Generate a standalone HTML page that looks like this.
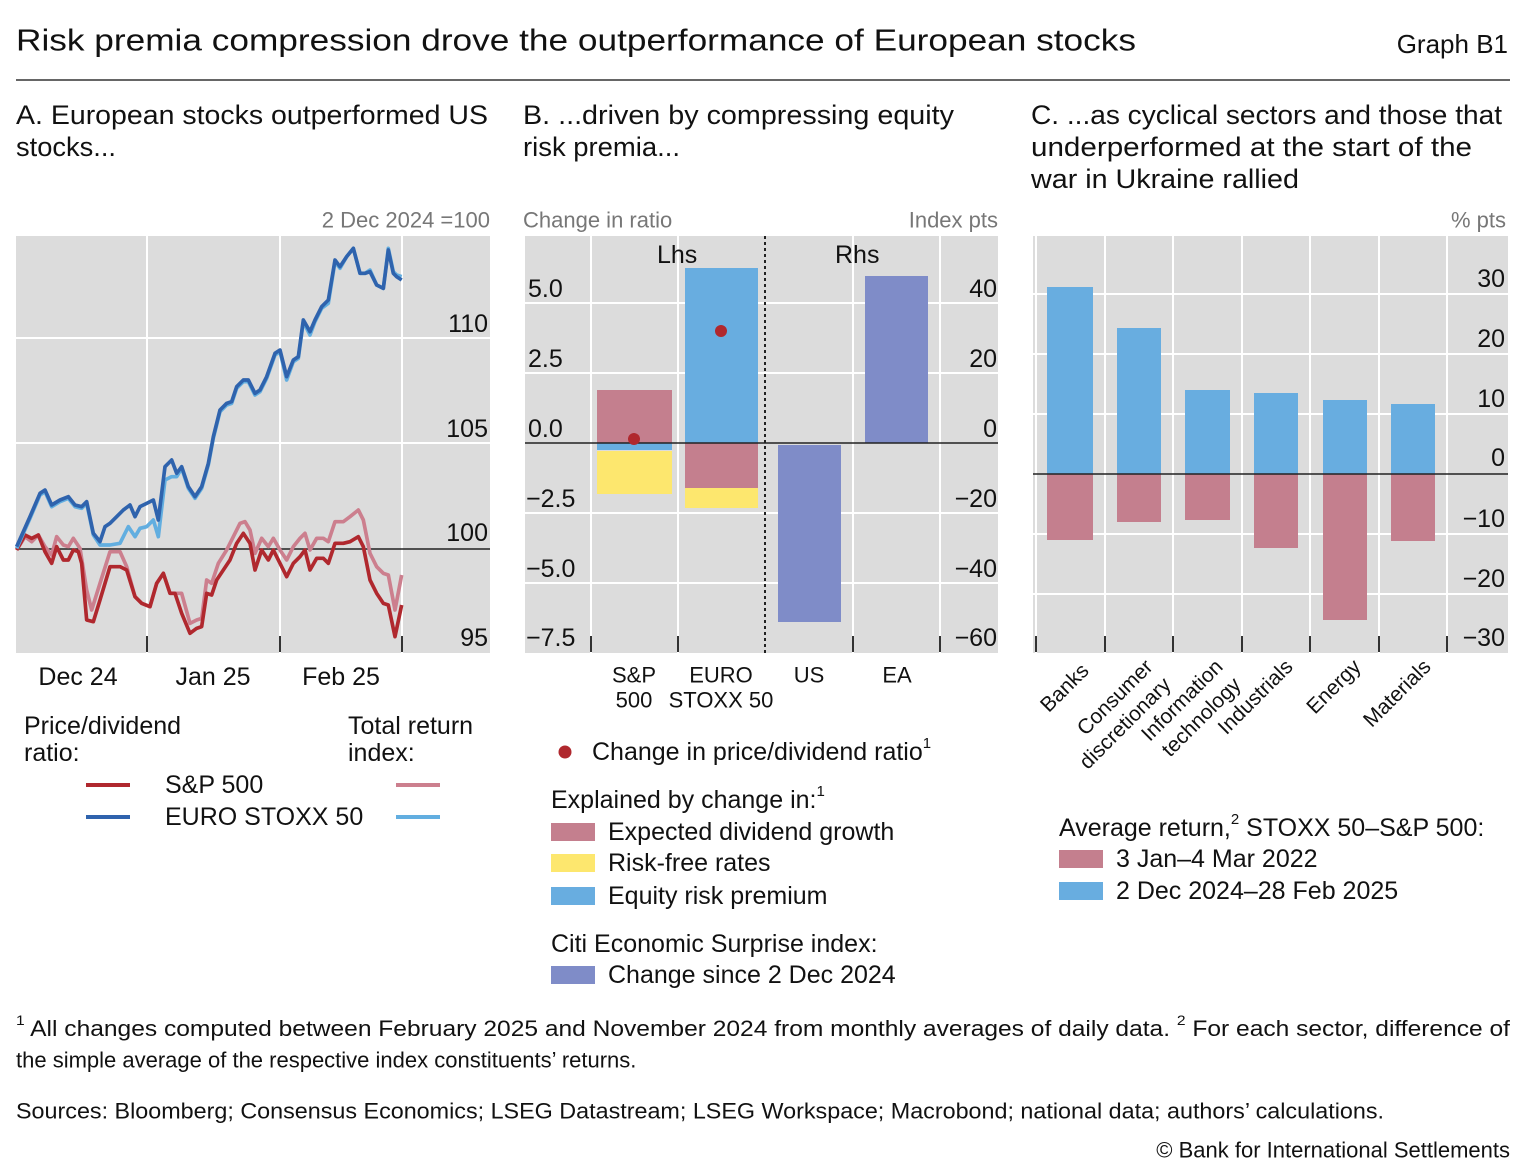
<!DOCTYPE html>
<html><head><meta charset="utf-8"><style>
html,body{margin:0;padding:0;background:#fff}
svg{display:block;font-family:"Liberation Sans",sans-serif}
</style></head><body>
<svg width="1536" height="1170" viewBox="0 0 1536 1170" xmlns="http://www.w3.org/2000/svg" dominant-baseline="central">
<text x="16" y="40" font-size="31" fill="#111" textLength="1120" lengthAdjust="spacingAndGlyphs">Risk premia compression drove the outperformance of European stocks</text>
<text x="1508" y="44" font-size="26" fill="#111" text-anchor="end">Graph B1</text>
<line x1="16" y1="80" x2="1510" y2="80" stroke="#666" stroke-width="2"/>

<g font-size="27" fill="#111" lengthAdjust="spacingAndGlyphs">
<text x="16" y="115" textLength="472" lengthAdjust="spacingAndGlyphs">A. European stocks outperformed US</text>
<text x="16" y="147" textLength="100" lengthAdjust="spacingAndGlyphs">stocks...</text>
<text x="523" y="115" textLength="431" lengthAdjust="spacingAndGlyphs">B. ...driven by compressing equity</text>
<text x="523" y="147" textLength="157" lengthAdjust="spacingAndGlyphs">risk premia...</text>
<text x="1031" y="115" textLength="471" lengthAdjust="spacingAndGlyphs">C. ...as cyclical sectors and those that</text>
<text x="1031" y="147" textLength="441" lengthAdjust="spacingAndGlyphs">underperformed at the start of the</text>
<text x="1031" y="179" textLength="268" lengthAdjust="spacingAndGlyphs">war in Ukraine rallied</text>
</g>
<g font-size="22" fill="#777">
<text x="490" y="220" text-anchor="end">2 Dec 2024 =100</text>
<text x="523" y="220">Change in ratio</text>
<text x="998" y="220" text-anchor="end">Index pts</text>
<text x="1506" y="220" text-anchor="end">% pts</text>
</g>

<!-- Panel A -->
<rect x="16" y="236" width="474" height="417" fill="#dcdcdc"/>
<g stroke="#fff" stroke-width="2">
<line x1="16" y1="338" x2="490" y2="338"/><line x1="16" y1="443" x2="490" y2="443"/>
<line x1="147" y1="236" x2="147" y2="653"/><line x1="280" y1="236" x2="280" y2="653"/><line x1="402" y1="236" x2="402" y2="653"/>
</g>
<g stroke="#333" stroke-width="2"><line x1="147" y1="636" x2="147" y2="652"/><line x1="280" y1="636" x2="280" y2="652"/><line x1="402" y1="636" x2="402" y2="652"/></g>
<line x1="16" y1="549" x2="490" y2="549" stroke="#222" stroke-width="1.5"/>
<g transform="translate(10,230) scale(0.33333)" fill="none" stroke-width="11" stroke-linejoin="round">
<path stroke="#cc7f8e" d="M20,960 L45,920 65,935 85,915 105,950 125,975 140,920 160,945 175,950 190,925 210,955 230,1080 245,1140 270,1060 300,965 330,965 350,1010 375,1100 395,1120 420,1130 440,1060 460,1030 480,1090 515,1090 540,1180 560,1170 575,1165 590,1050 605,1060 625,1000 650,960 670,920 690,880 705,875 720,900 735,970 755,925 775,950 790,925 810,960 830,990 850,950 870,925 885,910 900,960 920,925 940,925 955,935 975,875 1000,875 1020,860 1045,840 1060,870 1080,970 1100,1010 1120,1030 1135,1035 1155,1140 1175,1035"/>
<path stroke="#b0282e" d="M20,960 L45,915 65,925 85,915 105,965 125,1000 140,950 160,990 175,990 190,960 205,965 215,1000 230,1170 250,1175 270,1110 300,1010 330,1010 350,1020 375,1100 395,1120 420,1130 440,1060 460,1030 480,1090 495,1090 515,1150 540,1210 560,1195 575,1190 590,1090 605,1095 620,1050 640,1020 660,990 680,940 700,910 720,940 735,1020 755,960 775,990 790,960 810,1000 830,1040 850,1000 870,980 885,960 900,1020 920,985 940,985 955,1000 975,940 1000,940 1020,935 1045,920 1060,950 1080,1050 1100,1090 1120,1120 1135,1125 1155,1220 1175,1125"/>
<path stroke="#62aee0" d="M20,955 L60,865 90,795 105,785 125,830 150,815 175,805 195,830 215,835 230,820 250,915 270,945 285,945 300,945 330,940 355,890 375,920 390,895 410,890 430,870 445,920 465,750 485,740 500,740 515,715 535,775 555,805 575,775 595,705 610,625 630,545 650,525 665,520 680,475 700,455 715,455 735,495 750,485 770,445 795,375 810,365 830,450 850,395 865,385 880,275 900,315 915,275 935,235 955,220 975,95 990,115 1010,80 1030,55 1050,130 1065,130 1080,120 1100,165 1120,175 1135,55 1150,125 1160,135 1175,140"/>
<path stroke="#2f63ad" d="M20,950 L60,860 90,790 105,780 125,825 150,810 175,800 195,825 215,830 230,815 250,910 270,935 285,890 300,880 320,860 340,840 360,825 375,860 390,830 410,820 430,810 445,870 465,710 485,690 500,730 515,710 535,770 555,800 575,770 595,700 610,620 630,540 650,520 665,515 680,470 700,450 715,450 735,490 750,480 770,440 795,370 810,360 830,440 850,390 865,380 880,270 900,305 915,270 935,230 955,210 975,90 990,110 1010,80 1030,55 1050,130 1065,130 1080,125 1100,165 1120,175 1135,60 1150,130 1160,140 1175,150"/>
</g>
<g font-size="25" fill="#111" text-anchor="end">
<text x="488" y="324">110</text><text x="488" y="429">105</text><text x="488" y="533">100</text><text x="488" y="638">95</text>
</g>
<g font-size="25" fill="#111" text-anchor="middle">
<text x="78" y="677">Dec 24</text><text x="213" y="677">Jan 25</text><text x="341" y="677">Feb 25</text>
</g>
<g font-size="25" fill="#111">
<text x="24" y="726">Price/dividend</text><text x="24" y="753">ratio:</text>
<text x="348" y="726">Total return</text><text x="348" y="753">index:</text>
<text x="165" y="785">S&amp;P 500</text><text x="165" y="817">EURO STOXX 50</text>
</g>
<line x1="86" y1="785" x2="130" y2="785" stroke="#b0282e" stroke-width="4"/>
<line x1="86" y1="817" x2="130" y2="817" stroke="#2f63ad" stroke-width="4"/>
<line x1="396" y1="785" x2="440" y2="785" stroke="#cc7f8e" stroke-width="4"/>
<line x1="396" y1="817" x2="440" y2="817" stroke="#62aee0" stroke-width="4"/>

<!-- Panel B -->
<rect x="525" y="236" width="473" height="417" fill="#dcdcdc"/>
<g stroke="#fff" stroke-width="2">
<line x1="525" y1="303" x2="998" y2="303"/><line x1="525" y1="373" x2="998" y2="373"/><line x1="525" y1="513" x2="998" y2="513"/><line x1="525" y1="583" x2="998" y2="583"/>
<line x1="591" y1="236" x2="591" y2="653"/><line x1="678" y1="236" x2="678" y2="653"/><line x1="853" y1="236" x2="853" y2="653"/><line x1="940" y1="236" x2="940" y2="653"/>
</g>
<g stroke="#333" stroke-width="2"><line x1="591" y1="636" x2="591" y2="652"/><line x1="678" y1="636" x2="678" y2="652"/><line x1="853" y1="636" x2="853" y2="652"/><line x1="940" y1="636" x2="940" y2="652"/></g>
<rect x="597" y="390" width="75" height="53" fill="#c47f8e"/>
<rect x="597" y="443" width="75" height="7" fill="#68ade0"/>
<rect x="597" y="451" width="75" height="43" fill="#fde76e"/>
<rect x="685" y="268" width="73" height="175" fill="#68ade0"/>
<rect x="685" y="443" width="73" height="45" fill="#c47f8e"/>
<rect x="685" y="488" width="73" height="20" fill="#fde76e"/>
<rect x="778" y="445" width="63" height="177" fill="#7f8cc8"/>
<rect x="865" y="276" width="63" height="167" fill="#7f8cc8"/>
<line x1="525" y1="443" x2="998" y2="443" stroke="#222" stroke-width="1.5"/>
<line x1="765" y1="236" x2="765" y2="653" stroke="#222" stroke-width="2" stroke-dasharray="3,3"/>
<circle cx="634" cy="439" r="6" fill="#b0282e"/>
<circle cx="721" cy="331" r="6" fill="#b0282e"/>
<g font-size="25" fill="#111">
<text x="528" y="289">5.0</text><text x="528" y="359">2.5</text><text x="528" y="429">0.0</text>
<text x="526" y="499">−2.5</text><text x="526" y="569">−5.0</text><text x="526" y="638">−7.5</text>
<text x="657" y="255">Lhs</text><text x="835" y="255">Rhs</text>
</g>
<g font-size="25" fill="#111" text-anchor="end">
<text x="997" y="289">40</text><text x="997" y="359">20</text><text x="997" y="429">0</text>
<text x="997" y="499">−20</text><text x="997" y="569">−40</text><text x="997" y="638">−60</text>
</g>
<g font-size="22" fill="#111" text-anchor="middle">
<text x="634" y="675">S&amp;P</text><text x="634" y="700">500</text>
<text x="721" y="675">EURO</text><text x="721" y="700">STOXX 50</text>
<text x="809" y="675">US</text><text x="897" y="675">EA</text>
</g>
<circle cx="565" cy="752" r="6.5" fill="#b0282e"/>
<g font-size="25" fill="#111">
<text x="592" y="752">Change in price/dividend ratio<tspan font-size="15" dy="-9">1</tspan></text>
<text x="551" y="800">Explained by change in:<tspan font-size="15" dy="-9">1</tspan></text>
<text x="608" y="832">Expected dividend growth</text>
<text x="608" y="863">Risk-free rates</text>
<text x="608" y="896">Equity risk premium</text>
<text x="551" y="944">Citi Economic Surprise index:</text>
<text x="608" y="975">Change since 2 Dec 2024</text>
</g>
<rect x="551" y="823" width="44" height="18" fill="#c47f8e"/>
<rect x="551" y="854" width="44" height="18" fill="#fde76e"/>
<rect x="551" y="887" width="44" height="18" fill="#68ade0"/>
<rect x="551" y="966" width="44" height="18" fill="#7f8cc8"/>

<!-- Panel C -->
<rect x="1033" y="236" width="475" height="417" fill="#dcdcdc"/>
<g stroke="#fff" stroke-width="2">
<line x1="1033" y1="294" x2="1508" y2="294"/><line x1="1033" y1="354" x2="1508" y2="354"/><line x1="1033" y1="414" x2="1508" y2="414"/>
<line x1="1033" y1="534" x2="1508" y2="534"/><line x1="1033" y1="594" x2="1508" y2="594"/>
<line x1="1036" y1="236" x2="1036" y2="653"/><line x1="1105" y1="236" x2="1105" y2="653"/><line x1="1173" y1="236" x2="1173" y2="653"/><line x1="1242" y1="236" x2="1242" y2="653"/><line x1="1310" y1="236" x2="1310" y2="653"/><line x1="1379" y1="236" x2="1379" y2="653"/><line x1="1447" y1="236" x2="1447" y2="653"/>
</g>
<g stroke="#333" stroke-width="2">
<line x1="1036" y1="636" x2="1036" y2="652"/><line x1="1105" y1="636" x2="1105" y2="652"/><line x1="1173" y1="636" x2="1173" y2="652"/><line x1="1242" y1="636" x2="1242" y2="652"/><line x1="1310" y1="636" x2="1310" y2="652"/><line x1="1379" y1="636" x2="1379" y2="652"/><line x1="1447" y1="636" x2="1447" y2="652"/>
</g>
<g fill="#68ade0">
<rect x="1047" y="287" width="46" height="187"/><rect x="1117" y="328" width="44" height="146"/><rect x="1185" y="390" width="45" height="84"/>
<rect x="1254" y="393" width="44" height="81"/><rect x="1323" y="400" width="44" height="74"/><rect x="1391" y="404" width="44" height="70"/>
</g>
<g fill="#c47f8e">
<rect x="1047" y="474" width="46" height="66"/><rect x="1117" y="474" width="44" height="48"/><rect x="1185" y="474" width="45" height="46"/>
<rect x="1254" y="474" width="44" height="74"/><rect x="1323" y="474" width="44" height="146"/><rect x="1391" y="474" width="44" height="67"/>
</g>
<line x1="1033" y1="474" x2="1508" y2="474" stroke="#222" stroke-width="1.5"/>
<g font-size="25" fill="#111" text-anchor="end">
<text x="1505" y="279">30</text><text x="1505" y="339">20</text><text x="1505" y="399">10</text><text x="1505" y="458">0</text>
<text x="1505" y="519">−10</text><text x="1505" y="579">−20</text><text x="1505" y="638">−30</text>
</g>
<g font-size="21" fill="#111" text-anchor="end" dominant-baseline="auto">
<text transform="translate(1090,672) rotate(-45)">Banks</text>
<text transform="translate(1154,668) rotate(-45)">Consumer</text>
<text transform="translate(1172,686) rotate(-45)">discretionary</text>
<text transform="translate(1224,668) rotate(-45)">Information</text>
<text transform="translate(1242,686) rotate(-45)">technology</text>
<text transform="translate(1294,668) rotate(-45)">Industrials</text>
<text transform="translate(1362,668) rotate(-45)">Energy</text>
<text transform="translate(1432,668) rotate(-45)">Materials</text>
</g>
<g font-size="25" fill="#111">
<text x="1059" y="828">Average return,<tspan font-size="15" dy="-9">2</tspan><tspan dy="9"> STOXX 50–S&amp;P 500:</tspan></text>
<text x="1116" y="859">3 Jan–4 Mar 2022</text>
<text x="1116" y="891">2 Dec 2024–28 Feb 2025</text>
</g>
<rect x="1059" y="850" width="44" height="18" fill="#c47f8e"/>
<rect x="1059" y="882" width="44" height="18" fill="#68ade0"/>

<!-- Footnotes -->
<g font-size="22" fill="#111">
<text x="16" y="1028" textLength="1494" lengthAdjust="spacingAndGlyphs"><tspan font-size="14" dy="-8">1</tspan><tspan dy="8">  All changes computed between February 2025 and November 2024 from monthly averages of daily data.   </tspan><tspan font-size="14" dy="-8">2</tspan><tspan dy="8">  For each sector, difference of</tspan></text>
<text x="16" y="1060">the simple average of the respective index constituents’ returns.</text>
<text x="16" y="1111" textLength="1368" lengthAdjust="spacingAndGlyphs">Sources: Bloomberg; Consensus Economics; LSEG Datastream; LSEG Workspace; Macrobond; national data; authors’ calculations.</text>
<text x="1510" y="1150" text-anchor="end">© Bank for International Settlements</text>
</g>
</svg>
</body></html>
